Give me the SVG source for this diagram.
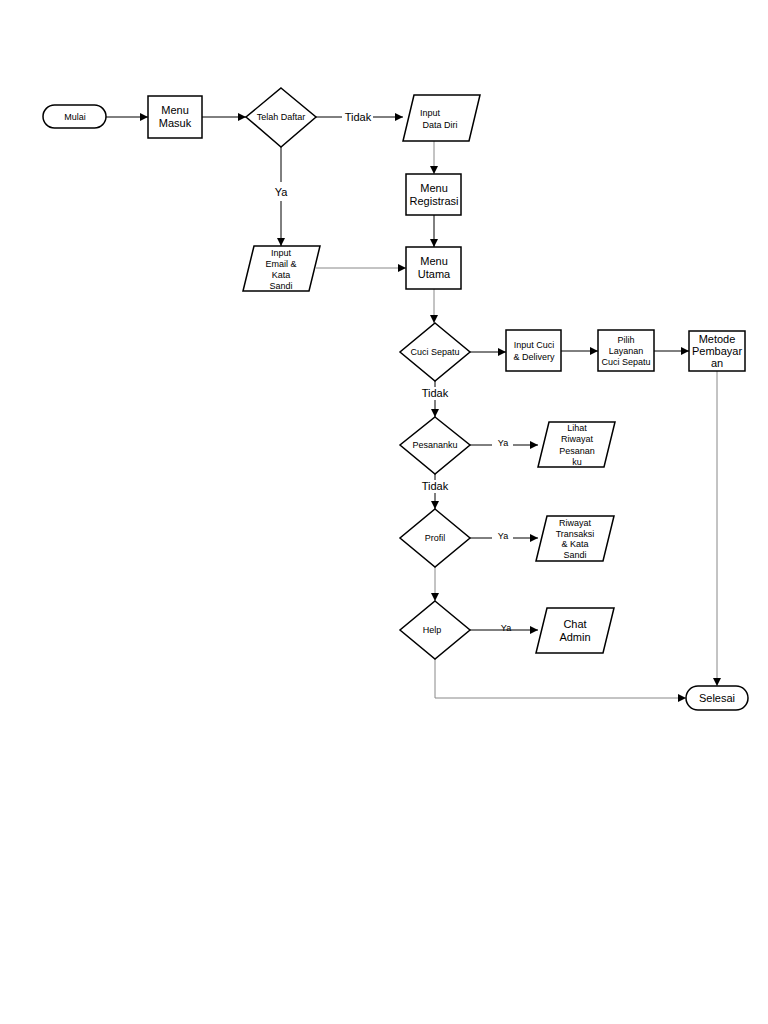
<svg xmlns="http://www.w3.org/2000/svg" width="768" height="1024" viewBox="0 0 768 1024">
<style>
.s{fill:#fff;stroke:#000;stroke-width:1.5}
.t{font-family:"Liberation Sans",Arial,sans-serif;font-size:11px;text-anchor:middle;fill:#000}
.sm{font-size:9px}
.c{fill:none;stroke:#000;stroke-width:1}
.g{fill:none;stroke:#888;stroke-width:1}
</style>
<defs><marker id="a" markerWidth="8" markerHeight="8" refX="8" refY="4" orient="auto" markerUnits="userSpaceOnUse"><path d="M0,0L8,4L0,8z"/></marker></defs>
<rect width="768" height="1024" fill="#fff"/>
<g id="connectors">
<path class="c" d="M106,117H148" marker-end="url(#a)"/>
<path class="c" d="M202,117H246" marker-end="url(#a)"/>
<path class="c" d="M316,117H342M373,117H403" marker-end="url(#a)"/>
<path class="c" d="M281,147V182M281,201V246" marker-end="url(#a)"/>
<path class="g" d="M434,141V174" marker-end="url(#a)"/>
<path class="c" d="M434,215V247" marker-end="url(#a)"/>
<path class="g" d="M316,268H406" marker-end="url(#a)"/>
<path class="g" d="M434,289V323" marker-end="url(#a)"/>
<path class="c" d="M470,352H506" marker-end="url(#a)"/>
<path class="c" d="M561,351H598" marker-end="url(#a)"/>
<path class="c" d="M654,351H689" marker-end="url(#a)"/>
<path class="c" d="M435,381V387M435,400V417" marker-end="url(#a)"/>
<path class="c" d="M470,445H492M513,445H538" marker-end="url(#a)"/>
<path class="c" d="M435,474V480M435,493V509" marker-end="url(#a)"/>
<path class="c" d="M470,538H492M513,538H538" marker-end="url(#a)"/>
<path class="g" d="M435,567V601" marker-end="url(#a)"/>
<path class="c" d="M470,630H538" marker-end="url(#a)"/>
<path class="g" d="M435,659V698H686" marker-end="url(#a)"/>
<path class="g" d="M717,371V686" marker-end="url(#a)"/>
</g>
<g id="labels" class="t">
<text x="358" y="121">Tidak</text>
<text x="281" y="196">Ya</text>
<text x="435" y="397">Tidak</text>
<text x="435" y="490">Tidak</text>
<text x="503" y="446" class="sm">Ya</text>
<text x="503" y="539" class="sm">Ya</text>
<text x="506" y="631" class="sm">Ya</text>
</g>
<g id="mulai"><rect class="s" x="43" y="105" width="63" height="23" rx="11.5"/><text class="t sm" x="75" y="120">Mulai</text></g>
<g id="menuMasuk"><rect class="s" x="148" y="96" width="54" height="42"/><text class="t" x="175" y="114">Menu</text><text class="t" x="175" y="127">Masuk</text></g>
<g id="telahDaftar"><path class="s" d="M281,88L316,117L281,147L246,117Z"/><text class="t sm" x="281" y="120">Telah Daftar</text></g>
<g id="inputData"><path class="s" d="M414,95H480L469,141H403Z"/><text class="t sm" x="430" y="116">Input</text><text class="t sm" x="440" y="128">Data Diri</text></g>
<g id="menuRegistrasi"><rect class="s" x="406" y="174" width="55" height="41"/><text class="t" x="434" y="192">Menu</text><text class="t" x="434" y="205">Registrasi</text></g>
<g id="inputEmail"><path class="s" d="M254,246H320L309,291H243Z"/><text class="t sm" x="281" y="256">Input</text><text class="t sm" x="281" y="267">Email &amp;</text><text class="t sm" x="281" y="278">Kata</text><text class="t sm" x="281" y="289">Sandi</text></g>
<g id="menuUtama"><rect class="s" x="406" y="247" width="55" height="42"/><text class="t" x="434" y="265">Menu</text><text class="t" x="434" y="278">Utama</text></g>
<g id="cuciSepatu"><path class="s" d="M435,323L470,352L435,381L400,352Z"/><text class="t sm" x="435" y="355">Cuci Sepatu</text></g>
<g id="inputCuci"><rect class="s" x="506" y="330" width="55" height="41"/><text class="t sm" x="534" y="348">Input Cuci</text><text class="t sm" x="534" y="360">&amp; Delivery</text></g>
<g id="pilihLayanan"><rect class="s" x="598" y="330" width="56" height="41"/><text class="t sm" x="626" y="343">Pilih</text><text class="t sm" x="626" y="354">Layanan</text><text class="t sm" x="626" y="365">Cuci Sepatu</text></g>
<g id="metode"><rect class="s" x="689" y="331" width="56" height="40"/><text class="t" x="717" y="343">Metode</text><text class="t" x="717" y="355">Pembayar</text><text class="t" x="717" y="367">an</text></g>
<g id="pesananku"><path class="s" d="M435,417L470,445L435,474L400,445Z"/><text class="t sm" x="435" y="448">Pesananku</text></g>
<g id="lihatRiwayat"><path class="s" d="M549,422H615L604,467H538Z"/><text class="t sm" x="577" y="431">Lihat</text><text class="t sm" x="577" y="442">Riwayat</text><text class="t sm" x="577" y="454">Pesanan</text><text class="t sm" x="577" y="465">ku</text></g>
<g id="profil"><path class="s" d="M435,509L470,538L435,567L400,538Z"/><text class="t sm" x="435" y="541">Profil</text></g>
<g id="riwayatTransaksi"><path class="s" d="M547,516H614L603,561H536Z"/><text class="t sm" x="575" y="526">Riwayat</text><text class="t sm" x="575" y="537">Transaksi</text><text class="t sm" x="575" y="547">&amp; Kata</text><text class="t sm" x="575" y="558">Sandi</text></g>
<g id="help"><path class="s" d="M435,601L470,630L435,659L400,630Z"/><text class="t sm" x="432" y="633">Help</text></g>
<g id="chatAdmin"><path class="s" d="M547,608H614L603,653H536Z"/><text class="t" x="575" y="628">Chat</text><text class="t" x="575" y="641">Admin</text></g>
<g id="selesai"><rect class="s" x="686" y="686" width="62" height="24" rx="12"/><text class="t" x="717" y="702">Selesai</text></g>
</svg>
